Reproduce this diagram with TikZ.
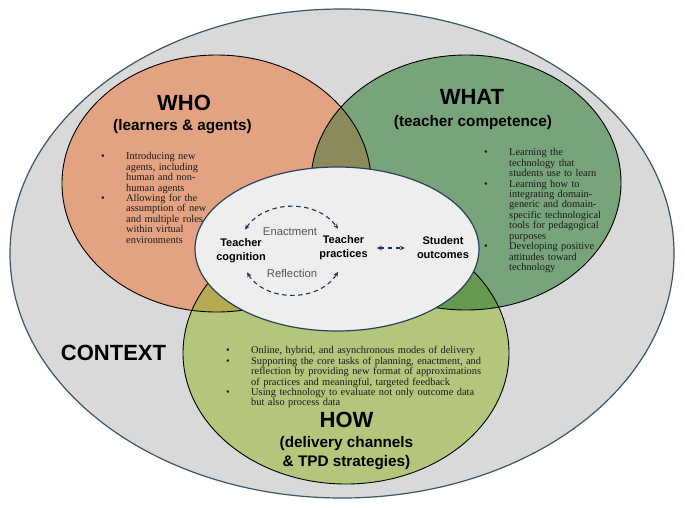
\documentclass[tikz,border=0pt]{standalone}
\usepackage{fontspec}
\setmainfont{Liberation Serif}
\setsansfont{Liberation Sans}
\usetikzlibrary{calc,arrows.meta}
\definecolor{outerfill}{HTML}{D9D9D9}
\definecolor{outeredge}{HTML}{3E5565}
\definecolor{whofill}{HTML}{E3A383}
\definecolor{whatfill}{HTML}{78A47C}
\definecolor{howfill}{HTML}{B3C67C}
\definecolor{ovwhowhat}{HTML}{8A8A5B}
\definecolor{ovwhohow}{HTML}{B5AA52}
\definecolor{ovwhathow}{HTML}{64994F}
\definecolor{centerfill}{HTML}{EEEEEE}
\definecolor{centeredge}{HTML}{2B4156}
\definecolor{arrowc}{HTML}{1F3550}
\definecolor{labelgray}{HTML}{555555}
\definecolor{bodytext}{HTML}{1A1A1A}
\newcommand\whoE{(216.6,183.5) ellipse [x radius=154.6pt, y radius=128.5pt]}
\newcommand\whatE{(466,182.5) ellipse [x radius=155pt, y radius=127.5pt]}
\newcommand\howE{(346,353) ellipse [x radius=163pt, y radius=131pt]}
\newenvironment{blist}{\begin{list}{\textbullet}{%
  \setlength\leftmargin{25pt}\setlength\labelwidth{25pt}%
  \setlength\labelsep{0pt}\setlength\itemsep{0pt}\setlength\parsep{0pt}%
  \setlength\topsep{0pt}\setlength\partopsep{0pt}%
  \renewcommand\makelabel[1]{##1\hfil}}}{\end{list}}
\tikzset{
  titletext/.style={font=\sffamily\bfseries\fontsize{22}{26}\selectfont, inner sep=0pt},
  subtitletext/.style={font=\sffamily\bfseries\fontsize{15.3}{19}\selectfont, inner sep=0pt, align=center},
  ctext/.style={font=\sffamily\bfseries\fontsize{11}{14}\selectfont, inner sep=0pt, align=center},
  glabel/.style={font=\sffamily\fontsize{11.3}{13}\selectfont, text=labelgray, inner sep=0pt},
  bultext/.style={inner sep=0pt, anchor=north west, align=left,
    font=\fontsize{10.4}{10.45}\selectfont, text=bodytext},
  darr/.style={draw=arrowc, line width=1.1pt, dash pattern=on 4.5pt off 3.5pt,
    {Stealth[length=5pt,width=4.5pt]}-{Stealth[length=5pt,width=4.5pt]}},
  venn/.style={draw=black, line width=0.9pt}
}
\begin{document}
\begin{tikzpicture}[x=1pt,y=-1pt]
\useasboundingbox (0,0) rectangle (685,507);
\fill[white] (0,0) rectangle (685,507);
% context
\path[fill=outerfill, draw=outeredge, line width=1.2pt] (342,253.5) ellipse [x radius=332pt, y radius=244.5pt];
% circles
\fill[whofill] \whoE;
\fill[whatfill] \whatE;
\fill[howfill] \howE;
\begin{scope}\clip \whoE; \fill[ovwhowhat] \whatE; \end{scope}
\begin{scope}\clip \whoE; \fill[ovwhohow] \howE; \end{scope}
\begin{scope}\clip \whatE; \fill[ovwhathow] \howE; \end{scope}
\path[venn] \whoE;
\path[venn] \whatE;
\path[venn] \howE;
% center
\path[fill=centerfill, draw=centeredge, line width=1.2pt] (337,249) ellipse [x radius=142pt, y radius=82pt];

% titles
\node[titletext] (who) at (184,103) {WHO};
\node[subtitletext] (whosub) at (182.5,127) {(learners \& agents)};
\node[titletext] (what) at (472,97) {WHAT};
\node[subtitletext] (whatsub) at (473,122.5) {(teacher competence)};
\node[titletext] (how) at (346.5,420) {HOW};
\node[subtitletext] (howsub) at (346.5,453.5) {(delivery channels\\\& TPD strategies)};
\node[titletext] (context) at (113.5,353) {CONTEXT};

% bullet lists
\node[bultext, text width=112pt] (wholist) at (101,149) {\begin{blist}
\item Introducing new\\agents, including\\human and non-\\human agents
\item Allowing for the\\assumption of new\\and multiple roles\\within virtual\\environments
\end{blist}};
\node[bultext, text width=122pt] (whatlist) at (484,145) {\begin{blist}
\item Learning the\\technology that\\students use to learn
\item Learning how to\\integrating domain-\\generic and domain-\\specific technological\\tools for pedagogical\\purposes
\item Developing positive\\attitudes toward\\technology
\end{blist}};
\node[bultext, text width=265pt] (howlist) at (226,343) {\begin{blist}
\item Online, hybrid, and asynchronous modes of delivery
\item Supporting the core tasks of planning, enactment, and\\reflection by providing new format of approximations\\of practices and meaningful, targeted feedback
\item Using technology to evaluate not only outcome data\\but also process data
\end{blist}};

% center content
\node[ctext] (cog) at (241,251) {Teacher\\cognition};
\node[ctext] (prac) at (343.5,248) {Teacher\\practices};
\node[ctext] (out) at (443,248) {Student\\outcomes};
\node[glabel] (enact) at (290,232) {Enactment};
\node[glabel] (refl) at (292,273) {Reflection};

\draw[darr] ($(cog.north)+(4,-9)$) to[bend left=55] ($(prac.north)+(-5.5,-7)$);
\draw[darr] ($(cog.south)+(6,9)$) to[bend right=58] ($(prac.south)+(-5.5,11.5)$);
\draw[darr, shorten <=9pt, shorten >=12pt] (prac.east) -- (out.west);
\end{tikzpicture}
\end{document}
